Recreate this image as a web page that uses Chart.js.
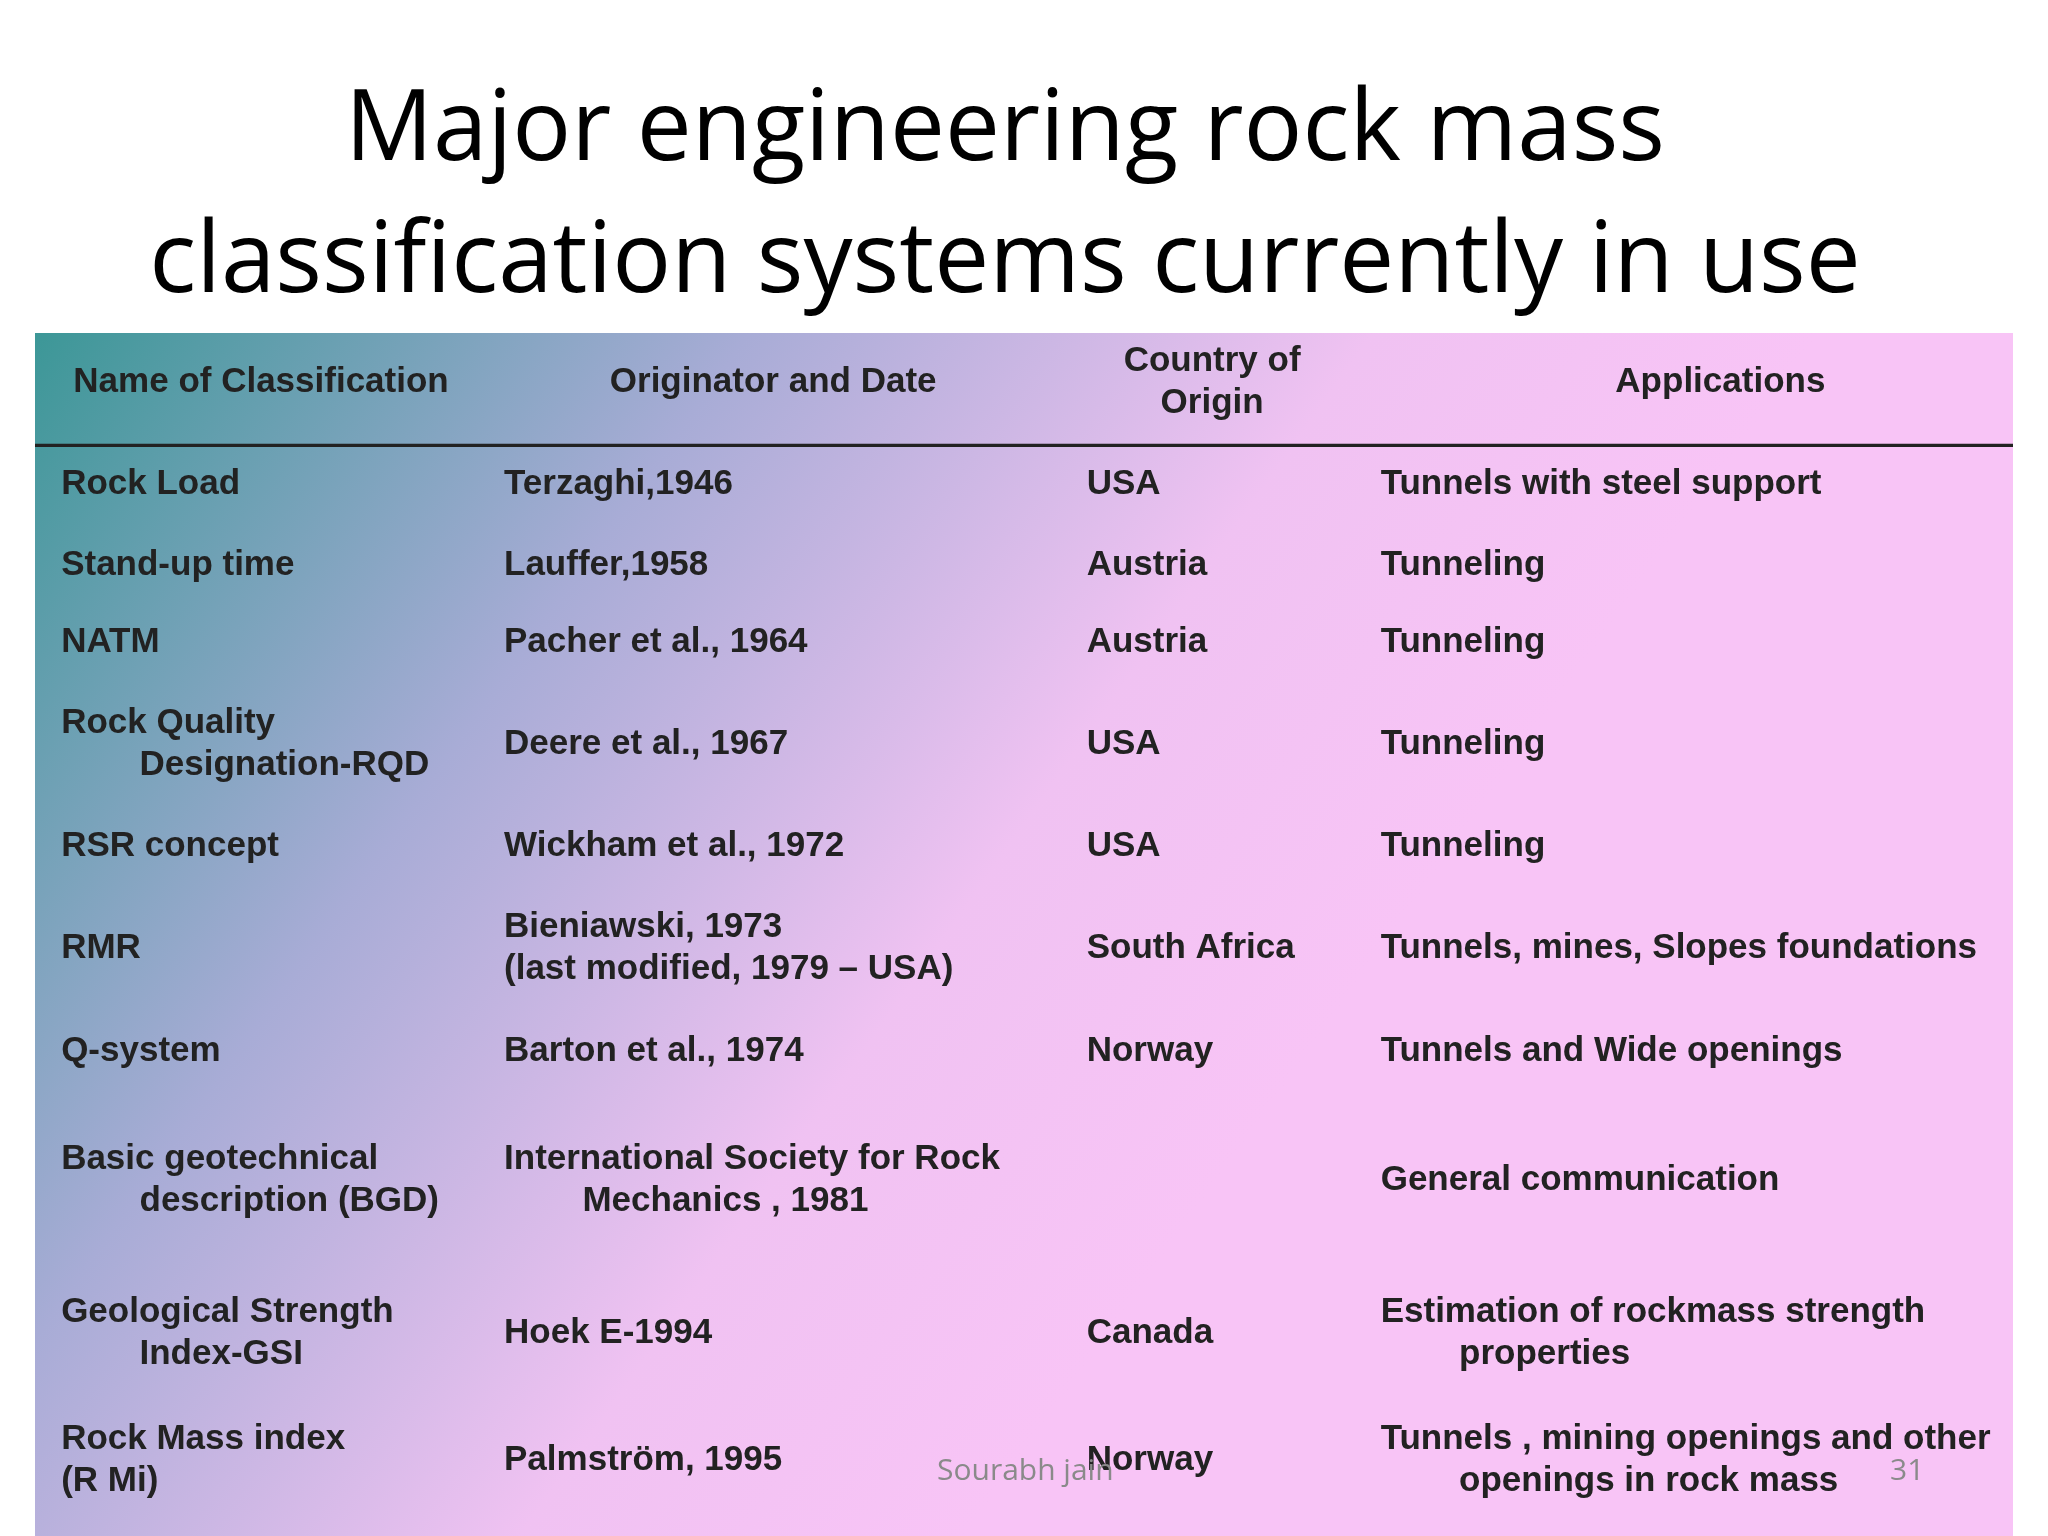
<!DOCTYPE html>
<html>
<head>
<meta charset="utf-8">
<script src="https://cdn.jsdelivr.net/npm/chart.js@4/dist/chart.umd.min.js"></script>
<style>
  body { margin: 0; background: #fff; width: 2048px; height: 1536px; overflow: hidden; position: relative; font-family: "Open Sans", "Noto Sans", sans-serif; }
  #title { position: absolute; left: 0; width: 2010px; top: 56px; text-align: center; font-size: 98px; line-height: 132px; color: #000; }
  #tbl { position: absolute; left: 35px; top: 333px; }
  .foot { position: absolute; top: 1448px; font-size: 30px; color: #8a8a8a; }
</style>
</head>
<body>
<div id="title">Major engineering rock mass<br>classification systems currently in use</div>
<canvas id="tbl" width="1978" height="1203"></canvas>
<div class="foot" style="left:937px">Sourabh jain</div>
<div class="foot" style="left:1890px">31</div>
<script>
(() => {
  'use strict'

  // table content ("\t" = indented continuation line)
  const headers = [['Name of Classification'], ['Originator and Date'], ['Country of', 'Origin'], ['Applications']]
  const names = [
    ['Rock Load'], ['Stand-up time'], ['NATM'], ['Rock Quality', '\tDesignation-RQD'], ['RSR concept'],
    ['RMR'], ['Q-system'], ['Basic geotechnical', '\tdescription (BGD)'], ['Geological Strength', '\tIndex-GSI'],
    ['Rock Mass index', '(R Mi)']
  ]
  const originators = [
    ['Terzaghi,1946'], ['Lauffer,1958'], ['Pacher et al., 1964'], ['Deere et al., 1967'], ['Wickham et al., 1972'],
    ['Bieniawski, 1973', '(last modified, 1979 \u2013 USA)'], ['Barton et al., 1974'],
    ['International Society for Rock', '\tMechanics , 1981'], ['Hoek E-1994'], ['Palmstr\u00f6m, 1995']
  ]
  const countries = [
    ['USA'], ['Austria'], ['Austria'], ['USA'], ['USA'], ['South Africa'], ['Norway'], [], ['Canada'], ['Norway']
  ]
  const applications = [
    ['Tunnels with steel support'], ['Tunneling'], ['Tunneling'], ['Tunneling'], ['Tunneling'],
    ['Tunnels, mines, Slopes foundations'], ['Tunnels and Wide openings'], ['General communication'],
    ['Estimation of rockmass strength', '\tproperties'],
    ['Tunnels , mining openings and other', '\topenings in rock mass']
  ]

  // layout in reference units
  const rowCenters = [371, 433, 492, 570, 648, 726, 805, 904, 1021, 1118]
  const colLeft = [47, 386, 832, 1057]
  const headerCenters = [200, 592, 928, 1317]
  const headerY = 293
  const columns = [names, originators, countries, applications]

  const tablePlugin = {
    id: 'tableText',
    beforeDraw(chart) {
      const { ctx, chartArea: a } = chart
      const g = ctx.createLinearGradient(a.left, a.top, a.left + a.width * 0.6, a.top + a.height * 0.7)
      g.addColorStop(0, '#3c9797')
      g.addColorStop(0.4, '#a8acd6')
      g.addColorStop(0.75, '#f0c2f2')
      g.addColorStop(1, '#f8c4f6')
      ctx.save()
      ctx.fillStyle = '#f8c4f6'
      ctx.fillRect(a.left, a.top, a.width, a.height)
      ctx.fillStyle = g
      ctx.fillRect(a.left, a.top, a.width, a.height)
      ctx.restore()
    },
    afterDraw(chart) {
      const { ctx, scales: { x, y } } = chart
      const k = (x.getPixelForValue(1541) - x.getPixelForValue(27)) / (1541 - 27)
      ctx.save()
      ctx.fillStyle = '#222'
      ctx.textBaseline = 'middle'
      ctx.font = `bold ${Math.round(26.5 * k)}px "Liberation Sans", Arial, sans-serif`
      const lineH = 32

      const drawCell = (lines, xRef, yRef, align) => {
        ctx.textAlign = align
        const y0 = yRef - (lines.length - 1) * lineH / 2
        lines.forEach((l, i) => {
          const ind = l.startsWith('\t') ? 60 : 0
          ctx.fillText(l.replace('\t', ''), x.getPixelForValue(xRef + ind), y.getPixelForValue(y0 + i * lineH))
        })
      }

      headers.forEach((h, c) => drawCell(h, headerCenters[c], headerY, 'center'))
      columns.forEach((col, c) => col.forEach((cell, r) => drawCell(cell, colLeft[c], rowCenters[r], 'left')))

      ctx.strokeStyle = '#222'
      ctx.lineWidth = 2.5 * k
      ctx.beginPath()
      ctx.moveTo(x.getPixelForValue(27), y.getPixelForValue(341))
      ctx.lineTo(x.getPixelForValue(1541), y.getPixelForValue(341))
      ctx.stroke()
      ctx.restore()
    }
  }

  new Chart(document.getElementById('tbl'), {
    type: 'scatter',
    data: { datasets: [{ data: [], pointRadius: 0 }] },
    options: {
      responsive: false,
      devicePixelRatio: 1,
      animation: false,
      layout: { padding: 0 },
      plugins: { legend: { display: false }, tooltip: { enabled: false } },
      scales: {
        x: { type: 'linear', min: 27, max: 1541, display: false },
        y: { type: 'linear', min: 255, max: 1176, reverse: true, display: false }
      }
    },
    plugins: [tablePlugin]
  })
})()
</script>
</body>
</html>
